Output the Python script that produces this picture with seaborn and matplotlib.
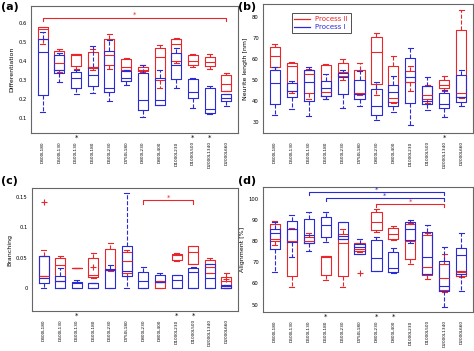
import numpy as np
import pandas as pd
import matplotlib
matplotlib.use("Agg")
import matplotlib.pyplot as plt
import matplotlib.transforms as mtrans
from matplotlib.lines import Line2D
from matplotlib.ticker import FuncFormatter
import seaborn as sns

cats = ["D400L180", "D500L130", "D600L130", "D600L180", "D600L230", "D750L180",
        "D800L230", "D800L400", "D1000L230", "D1000L500", "D2000L1340", "D2000L660"]
procs = ["Process II", "Process I"]
RED = "#e8262b"
BLUE = "#2a2ad8"

# five-number summaries per category: (low whisker, q1, median, q3, high whisker)
diff_p2 = [(0.49, 0.515, 0.57, 0.58, 0.58), (0.34, 0.355, 0.39, 0.455, 0.465),
           (0.36, 0.375, 0.43, 0.435, 0.435), (0.355, 0.365, 0.37, 0.445, 0.465),
           (0.36, 0.38, 0.43, 0.515, 0.54), (0.345, 0.35, 0.37, 0.41, 0.415),
           (0.34, 0.345, 0.355, 0.37, 0.38), (0.255, 0.30, 0.42, 0.47, 0.485),
           (0.39, 0.40, 0.49, 0.515, 0.52), (0.37, 0.38, 0.40, 0.43, 0.435),
           (0.36, 0.375, 0.395, 0.42, 0.435), (0.24, 0.24, 0.28, 0.325, 0.335)]
diff_p1 = [(0.13, 0.22, 0.445, 0.515, 0.555), (0.29, 0.335, 0.35, 0.43, 0.44),
           (0.225, 0.26, 0.31, 0.34, 0.355), (0.23, 0.27, 0.325, 0.37, 0.48),
           (0.19, 0.235, 0.255, 0.45, 0.51), (0.275, 0.295, 0.31, 0.345, 0.35),
           (0.105, 0.14, 0.195, 0.335, 0.38), (0.17, 0.17, 0.195, 0.31, 0.35),
           (0.26, 0.305, 0.38, 0.44, 0.47), (0.15, 0.205, 0.235, 0.305, 0.31),
           (0.12, 0.125, 0.145, 0.26, 0.27), (0.165, 0.19, 0.205, 0.225, 0.225)]

len_p2 = [(55, 56, 61.5, 65.5, 67), (44, 45, 56.5, 58, 58.5), (41, 44, 53, 55, 55.5),
          (41, 42.5, 44.5, 57, 57.5), (50, 52, 54, 58, 60), (43, 43.5, 44, 55, 58),
          (43, 48, 63.5, 70.5, 72.5), (39, 39.5, 41.5, 56.5, 61.5), (45, 49, 49, 54.5, 56.5),
          (39, 41, 43, 47, 47.5), (45, 46.5, 47.5, 50, 52), (41.5, 42, 44, 73.5, 83)]
len_p1 = [(33.5, 38.5, 48.5, 55, 56), (36.5, 42, 45, 48.5, 49.5), (33, 40, 49, 55, 56),
          (41, 42.5, 46.5, 49.5, 53), (37, 43.5, 51.5, 53.5, 55), (38, 41, 43.5, 50, 54.5),
          (31, 33.5, 38, 46, 49), (35, 38, 44.5, 47.5, 52), (29, 39, 51.5, 60.5, 65),
          (36, 38.5, 40, 47, 51.5), (32.5, 37, 38.5, 44, 45.5), (38, 39.5, 42, 52.5, 55)]

br_p2 = [(0.02, 0.02, 0.02, 0.052, 0.062), (0.012, 0.012, 0.038, 0.05, 0.052),
         (0.033, 0.033, 0.033, 0.033, 0.033), (0.016, 0.018, 0.022, 0.05, 0.058),
         (0.028, 0.03, 0.03, 0.065, 0.075), (0.02, 0.025, 0.045, 0.06, 0.063),
         None, (0.0, 0.0, 0.01, 0.012, 0.012),
         (0.044, 0.046, 0.055, 0.056, 0.057), (0.04, 0.04, 0.06, 0.069, 0.07),
         (0.025, 0.025, 0.035, 0.046, 0.05), (0.0, 0.0, 0.012, 0.018, 0.024)]
br_p1 = [(0.0, 0.008, 0.017, 0.052, 0.052), (0.0, 0.0, 0.012, 0.02, 0.033),
         (0.0, 0.0, 0.009, 0.01, 0.013), (0.0, 0.0, 0.008, 0.009, 0.009),
         (0.0, 0.0, 0.03, 0.032, 0.038), (0.0, 0.02, 0.028, 0.07, 0.157),
         (0.0, 0.0, 0.012, 0.027, 0.035), (0.01, 0.01, 0.01, 0.022, 0.025),
         (0.0, 0.0, 0.013, 0.021, 0.022), (0.0, 0.0, 0.026, 0.033, 0.034),
         (0.0, 0.0, 0.017, 0.04, 0.04), (0.0, 0.0, 0.003, 0.005, 0.005)]

al_p2 = [(78, 80, 81, 88, 89.5), (58.5, 63.5, 80, 86, 86.5), (79, 79, 80, 82, 84),
         (61.5, 64, 72.5, 73, 73), (58.5, 63.5, 79, 83.5, 86), (75, 75.5, 76.5, 79, 79),
         (84.5, 85.5, 89, 94, 95.5), (80.5, 81, 83.5, 86.5, 87), (69, 71.5, 80, 88, 88.5),
         (62, 64, 68, 83, 84), (56, 57, 62.5, 69, 74), (63, 63.5, 65.5, 66, 66)]
al_p1 = [(65.5, 76.5, 84, 86, 89), (72.5, 79.5, 86, 89.5, 92.5), (75.5, 79, 83, 90.5, 94),
         (79.5, 82, 87.5, 91.5, 94), (81, 81, 82.5, 89, 89), (74, 74, 77.5, 78.5, 81),
         (66, 66, 72, 80.5, 82), (65, 65.5, 67.5, 75, 77), (79, 80.5, 86, 89, 90),
         (64.5, 64.5, 72.5, 84.5, 87.5), (49, 56.5, 59, 70.5, 77.5), (56.5, 64.5, 73.5, 77, 84)]

# outlier markers (category, process, value)
br_out = [("D400L180", "Process II", 0.142), ("D600L180", "Process II", 0.034),
          ("D2000L660", "Process II", 0.015)]
al_out = [("D750L180", "Process II", 65.0)]

# significance stars under categories
stars_a = ["D600L130", "D1000L500", "D2000L1340"]
stars_b = ["D2000L1340"]
stars_c = ["D600L130", "D1000L230", "D1000L500"]
stars_d = ["D600L180", "D800L230", "D800L400"]

# brackets: (start cat, end cat, level, drop, color)
brk_a = [("D400L180", "D2000L660", 0.626, 0.016, RED)]
brk_b = []
brk_c = [("D800L230", "D1000L500", 0.1445, 0.0055, RED)]
brk_d = [("D600L130", "D2000L1340", 103.1, 1.2, BLUE),
         ("D600L180", "D2000L1340", 100.3, 1.3, BLUE),
         ("D800L230", "D2000L1340", 97.5, 1.1, RED)]


def long_df(p2, p1):
    rows = []
    for proc, stats in ((procs[0], p2), (procs[1], p1)):
        for c, s in zip(cats, stats):
            if s is None:
                continue
            for v in s:
                rows.append((c, proc, v))
    return pd.DataFrame(rows, columns=["cat", "proc", "val"])


fig = plt.figure(figsize=(4.74, 3.51), dpi=100)
W, H = 474.0, 351.0


def mkax(l, t, r, b):
    return fig.add_axes([l / W, 1 - b / H, (r - l) / W, (b - t) / H])


axes = [mkax(31, 6, 238, 133), mkax(263, 4, 473, 133),
        mkax(32, 188, 238, 311), mkax(263, 187, 473, 312)]

specs = [
    (diff_p2, diff_p1, None, stars_a, brk_a, (0.02, 0.69), [0.1, 0.2, 0.3, 0.4, 0.5, 0.6], "Differentiation", "(a)"),
    (len_p2, len_p1, None, stars_b, brk_b, (25, 86), [30, 40, 50, 60, 70, 80], "Neurite length [nm]", "(b)"),
    (br_p2, br_p1, br_out, stars_c, brk_c, (-0.038, 0.165), [0, 0.05, 0.1, 0.15], "Branching", "(c)"),
    (al_p2, al_p1, al_out, stars_d, brk_d, (46.5, 105.7), [50, 60, 70, 80, 90, 100], "Alignment [%]", "(d)"),
]
letter_pos = [(1, 2), (238, 2), (1, 176), (238, 176)]

for ax, (p2, p1, outs, stars, brks, ylim, yt, ylab, letter), lp in zip(axes, specs, letter_pos):
    df = long_df(p2, p1)
    sns.boxplot(data=df, x="cat", y="val", hue="proc", order=cats, hue_order=procs,
                palette={procs[0]: RED, procs[1]: BLUE}, dodge=False, fill=False,
                width=0.6, whis=(0, 100), linewidth=0.8, showfliers=False,
                whiskerprops=dict(linestyle="--"), legend=False, ax=ax)
    if outs:
        odf = pd.DataFrame(outs, columns=["cat", "proc", "val"])
        sns.stripplot(data=odf, x="cat", y="val", hue="proc", order=cats, hue_order=procs,
                      palette={procs[0]: RED, procs[1]: BLUE}, dodge=False, jitter=False,
                      marker="+", s=4, linewidth=0.8, legend=False, ax=ax)
    ax.set_ylim(*ylim)
    ax.set_xlim(-0.7, len(cats) - 0.3)
    ax.set_yticks(yt)
    ax.yaxis.set_major_formatter(FuncFormatter(lambda v, p: f"{v:g}"))
    ax.set_xlabel("")
    ax.set_ylabel(ylab, fontsize=4.5, labelpad=3)
    ax.tick_params(axis="y", labelsize=3.8, length=0, pad=3)
    ax.tick_params(axis="x", labelsize=3.1, length=0, pad=6, labelrotation=90)
    for sp in ax.spines.values():
        sp.set_color("#666666")
        sp.set_linewidth(0.8)
    trans = mtrans.blended_transform_factory(ax.transData, ax.transAxes)
    for s in stars:
        ax.text(cats.index(s), -0.015, "*", transform=trans, ha="center", va="top",
                fontsize=5, color="black")
    for c0, c1, lev, drop, col in brks:
        i0, i1 = cats.index(c0), cats.index(c1)
        ax.plot([i0, i0, i1, i1], [lev - drop, lev, lev, lev - drop], color=col, lw=0.8)
        ax.text((i0 + i1) / 2, lev, "*", ha="center", va="bottom", fontsize=5, color=col)
    fig.text(lp[0] / W, 1 - lp[1] / H, letter, fontsize=8, fontweight="bold",
             ha="left", va="top")

handles = [Line2D([0], [0], color=RED, lw=0.9), Line2D([0], [0], color=BLUE, lw=0.9)]
leg = axes[1].legend(handles, procs, loc="upper left", bbox_to_anchor=(0.12, 0.955),
                     fontsize=5, frameon=True, fancybox=False, edgecolor="black",
                     handlelength=2.2, borderpad=0.4, labelspacing=0.3,
                     labelcolor=[RED, BLUE])
leg.get_frame().set_linewidth(0.6)

fig.savefig("out.png", dpi=100)
